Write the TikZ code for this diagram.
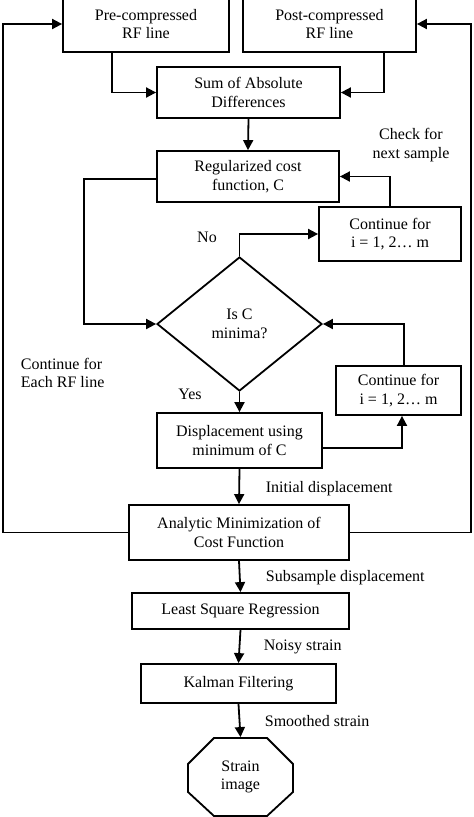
\documentclass[tikz,border=0pt]{standalone}
\usepackage{fontspec}
\setmainfont{Liberation Serif}
\usetikzlibrary{arrows.meta,shapes.geometric,calc}
\begin{document}
\begin{tikzpicture}[x=1pt,y=-1pt,line width=1.8pt,
  txt/.style={font=\fontsize{16}{18.5}\selectfont},
  box/.style={txt,draw,rectangle,align=center,inner sep=0pt},
  lbl/.style={txt,align=center,inner sep=0pt},
  arr/.style={-{Triangle[length=10pt,width=10pt]}}]
\useasboundingbox (0,0) rectangle (474,817);
% boxes
\node[box,minimum width=166pt,minimum height=56pt] (pre) at (146,24) {Pre-compressed\\RF line};
\node[box,minimum width=173pt,minimum height=56pt] (post) at (329.5,24) {Post-compressed\\RF line};
\node[box,minimum width=183pt,minimum height=51pt] (sad) at (248.5,92.5) {Sum of Absolute\\Differences};
\node[box,minimum width=182pt,minimum height=51pt] (reg) at (248,176.5) {Regularized cost\\function, C};
\node[box,minimum width=142pt,minimum height=54pt] (c1) at (390,234) {Continue for\\i = 1, 2\dots\ m};
\node[txt,draw,diamond,minimum width=165pt,minimum height=134pt,inner sep=0pt,align=center] (dia) at (239.5,324) {Is C\\minima?};
\node[box,minimum width=125pt,minimum height=49pt] (c2) at (398.5,390.5) {Continue for\\i = 1, 2\dots\ m};
\node[box,minimum width=165pt,minimum height=55pt] (disp) at (239.5,440.5) {Displacement using\\minimum of C};
\node[box,minimum width=220pt,minimum height=55pt] (ana) at (239,532.5) {Analytic Minimization of\\Cost Function};
\node[box,minimum width=217pt,minimum height=36pt] (lsr) at (240.5,611) {Least Square Regression};
\node[box,minimum width=195pt,minimum height=39pt] (kal) at (238.5,683.5) {Kalman Filtering};
\node[lbl,minimum width=105pt,minimum height=78pt] (strain) at (240.5,777) {Strain\\image};
\draw (214,738) -- (267,738) -- (293,764) -- (293,792) -- (267,816) -- (214,816) -- (188,792) -- (188,764) -- cycle;
% labels
\node[lbl] (lcheck) at (411,145) {Check for\\next sample};
\node[lbl] (lno) at (207,237) {No};
\node[lbl,align=left,anchor=west] (leach) at (20,373) {Continue for\\Each RF line};
\node[lbl] (lyes) at (190,394) {Yes};
\node[lbl,anchor=west] (linit) at (265,489) {Initial displacement};
\node[lbl,anchor=west] (lsub) at (265,578) {Subsample displacement};
\node[lbl,anchor=west] (lnoisy) at (263,647) {Noisy strain};
\node[lbl,anchor=west] (lsmooth) at (264,721) {Smoothed strain};
% feedback coordinates
\coordinate (fl) at (3,0);
\coordinate (fr) at (471,0);
% connectors
\draw[arr] ($(pre.south west)+(50,0)$) |- (sad.west);
\draw[arr] ($(post.south east)+(-33,0)$) |- (sad.east);
\draw[arr] (sad.south) -- (reg.north);
\draw[arr] ($(reg.west)+(0,2.5)$) -- ++(-72,0) |- (dia.west);
\draw[arr] (c1.north) |- (reg.east);
\draw[arr] (dia.north) |- (c1.west);
\draw[arr] (dia.south) -- (disp.north);
\draw[arr] ($(disp.east)+(0,7.5)$) -| ($(c2.south)+(3.5,0)$);
\draw[arr] ($(c2.north)+(5.5,0)$) |- (dia.east);
\draw[arr] (disp.south) -- (ana.north);
\draw[arr] (ana.west) -- (ana.west -| fl) -- (pre.west -| fl) -- (pre.west);
\draw[arr] (ana.east) -- (ana.east -| fr) -- (post.east -| fr) -- (post.east);
\draw[arr] (ana.south) -- (lsr.north);
\draw[arr] (lsr.south) -- (kal.north);
\draw[arr] (kal.south) -- (strain.north);
\end{tikzpicture}
\end{document}
